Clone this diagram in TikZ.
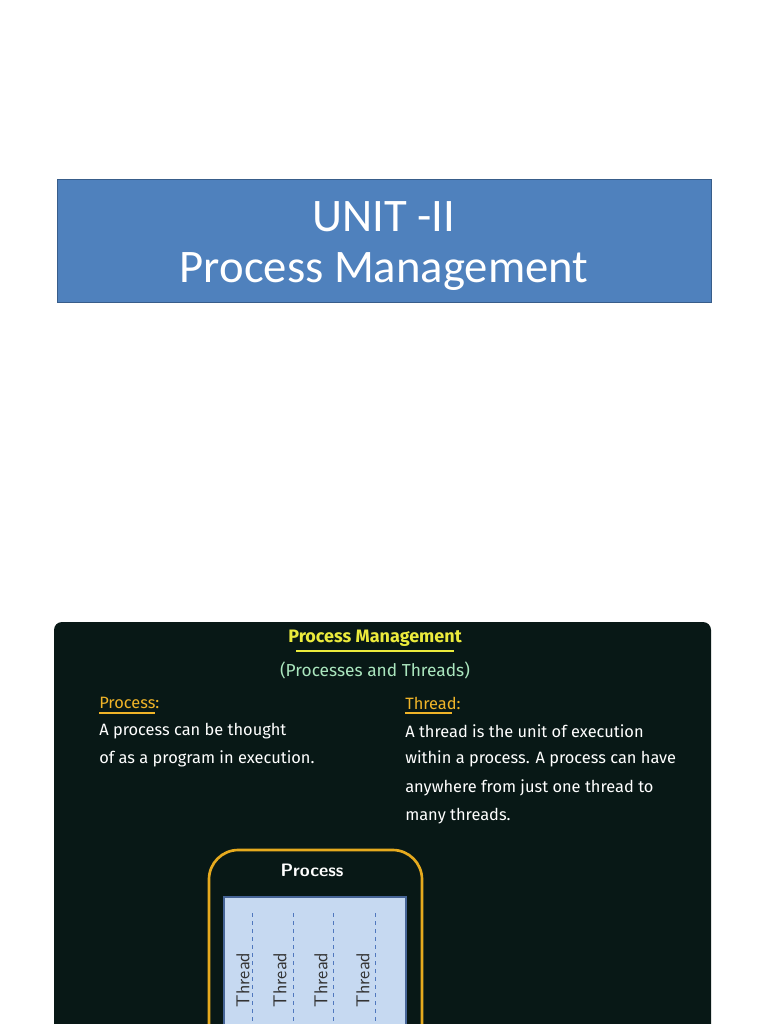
\documentclass[tikz,border=0pt]{standalone}
\usepackage{fontspec}
\setmainfont{Carlito}
\newfontfamily\comic{Fira Sans}
\definecolor{tblue}{RGB}{79,129,189}
\definecolor{tbord}{RGB}{56,93,138}
\definecolor{bg}{RGB}{8,24,22}
\definecolor{yel}{RGB}{235,235,60}
\definecolor{grn}{RGB}{170,230,190}
\definecolor{org}{RGB}{240,180,40}
\definecolor{org2}{RGB}{230,170,30}
\definecolor{lblue}{RGB}{198,217,241}
\definecolor{lbord}{RGB}{70,100,150}
\definecolor{dashcol}{RGB}{80,120,190}
\begin{document}
\begin{tikzpicture}[x=0.75pt,y=-0.75pt,
  panel/.style={font=\comic\fontsize{12.3}{15}\selectfont,text=white,anchor=west,inner sep=0},
  thr/.style={rotate=90,font=\sffamily\fontsize{14}{16}\selectfont,text=black!80}]
\useasboundingbox (0,0) rectangle (768,1024);
\fill[white] (0,0) rectangle (768,1024);
\node[draw=tbord,fill=tblue,line width=0.8pt,minimum width=654*0.75pt,minimum height=123*0.75pt,inner sep=0,anchor=north west] (tb) at (57,179) {};
\node[text=white,font=\fontsize{35}{38}\selectfont] (t1) at (384,217) {UNIT -II};
\node[text=white,font=\fontsize{35}{38}\selectfont] (t2) at (384,272) {Process Management};
\begin{scope}
\clip (0,0) rectangle (768,1024);
\fill[rounded corners=6pt,fill=bg] (54,622) rectangle (711,1060);
\node[font=\comic\bfseries\fontsize{13.5}{16}\selectfont,text=yel] (h) at (375,638) {Process Management};
\draw[yel,line width=1pt] (296,651) -- (454,651);
\node[font=\comic\fontsize{13}{16}\selectfont,text=grn] (s) at (375,670) {(Processes and Threads)};
\node[panel,text=org] (p) at (99,703) {Process:};
\draw[org,line width=0.8pt] (99,713) -- (155,713);
\node[panel] (p1) at (99,731) {A process can be thought};
\node[panel] (p2) at (99,759) {of as a program in execution.};
\node[panel,text=org] (q) at (405,703) {Thread:};
\draw[org,line width=0.8pt] (405,713) -- (452,713);
\node[panel] (q1) at (405,731) {A thread is the unit of execution};
\node[panel] (q2) at (405,759) {within a process. A process can have};
\node[panel] (q3) at (405,788) {anywhere from just one thread to};
\node[panel] (q4) at (405,816) {many threads.};
\draw[org2,line width=2pt,rounded corners=22pt] (209,1060) -- (209,850) -- (422,850) -- (422,1060);
\node[text=white,font=\sffamily\bfseries\fontsize{13.5}{15}\selectfont] (pr) at (312,870) {Process};
\fill[lblue,draw=lbord,line width=1pt] (224,1060) rectangle (406,897);
\foreach \x in {252,293,333,375}{\draw[dashed,dashcol,line width=0.6pt] (\x,913) -- (\x,1030);}
\foreach \x/\n in {243/a,280/b,321/c,363/d}{\node[thr] (th\n) at (\x,980) {Thread};}
\end{scope}
\end{tikzpicture}
\end{document}
